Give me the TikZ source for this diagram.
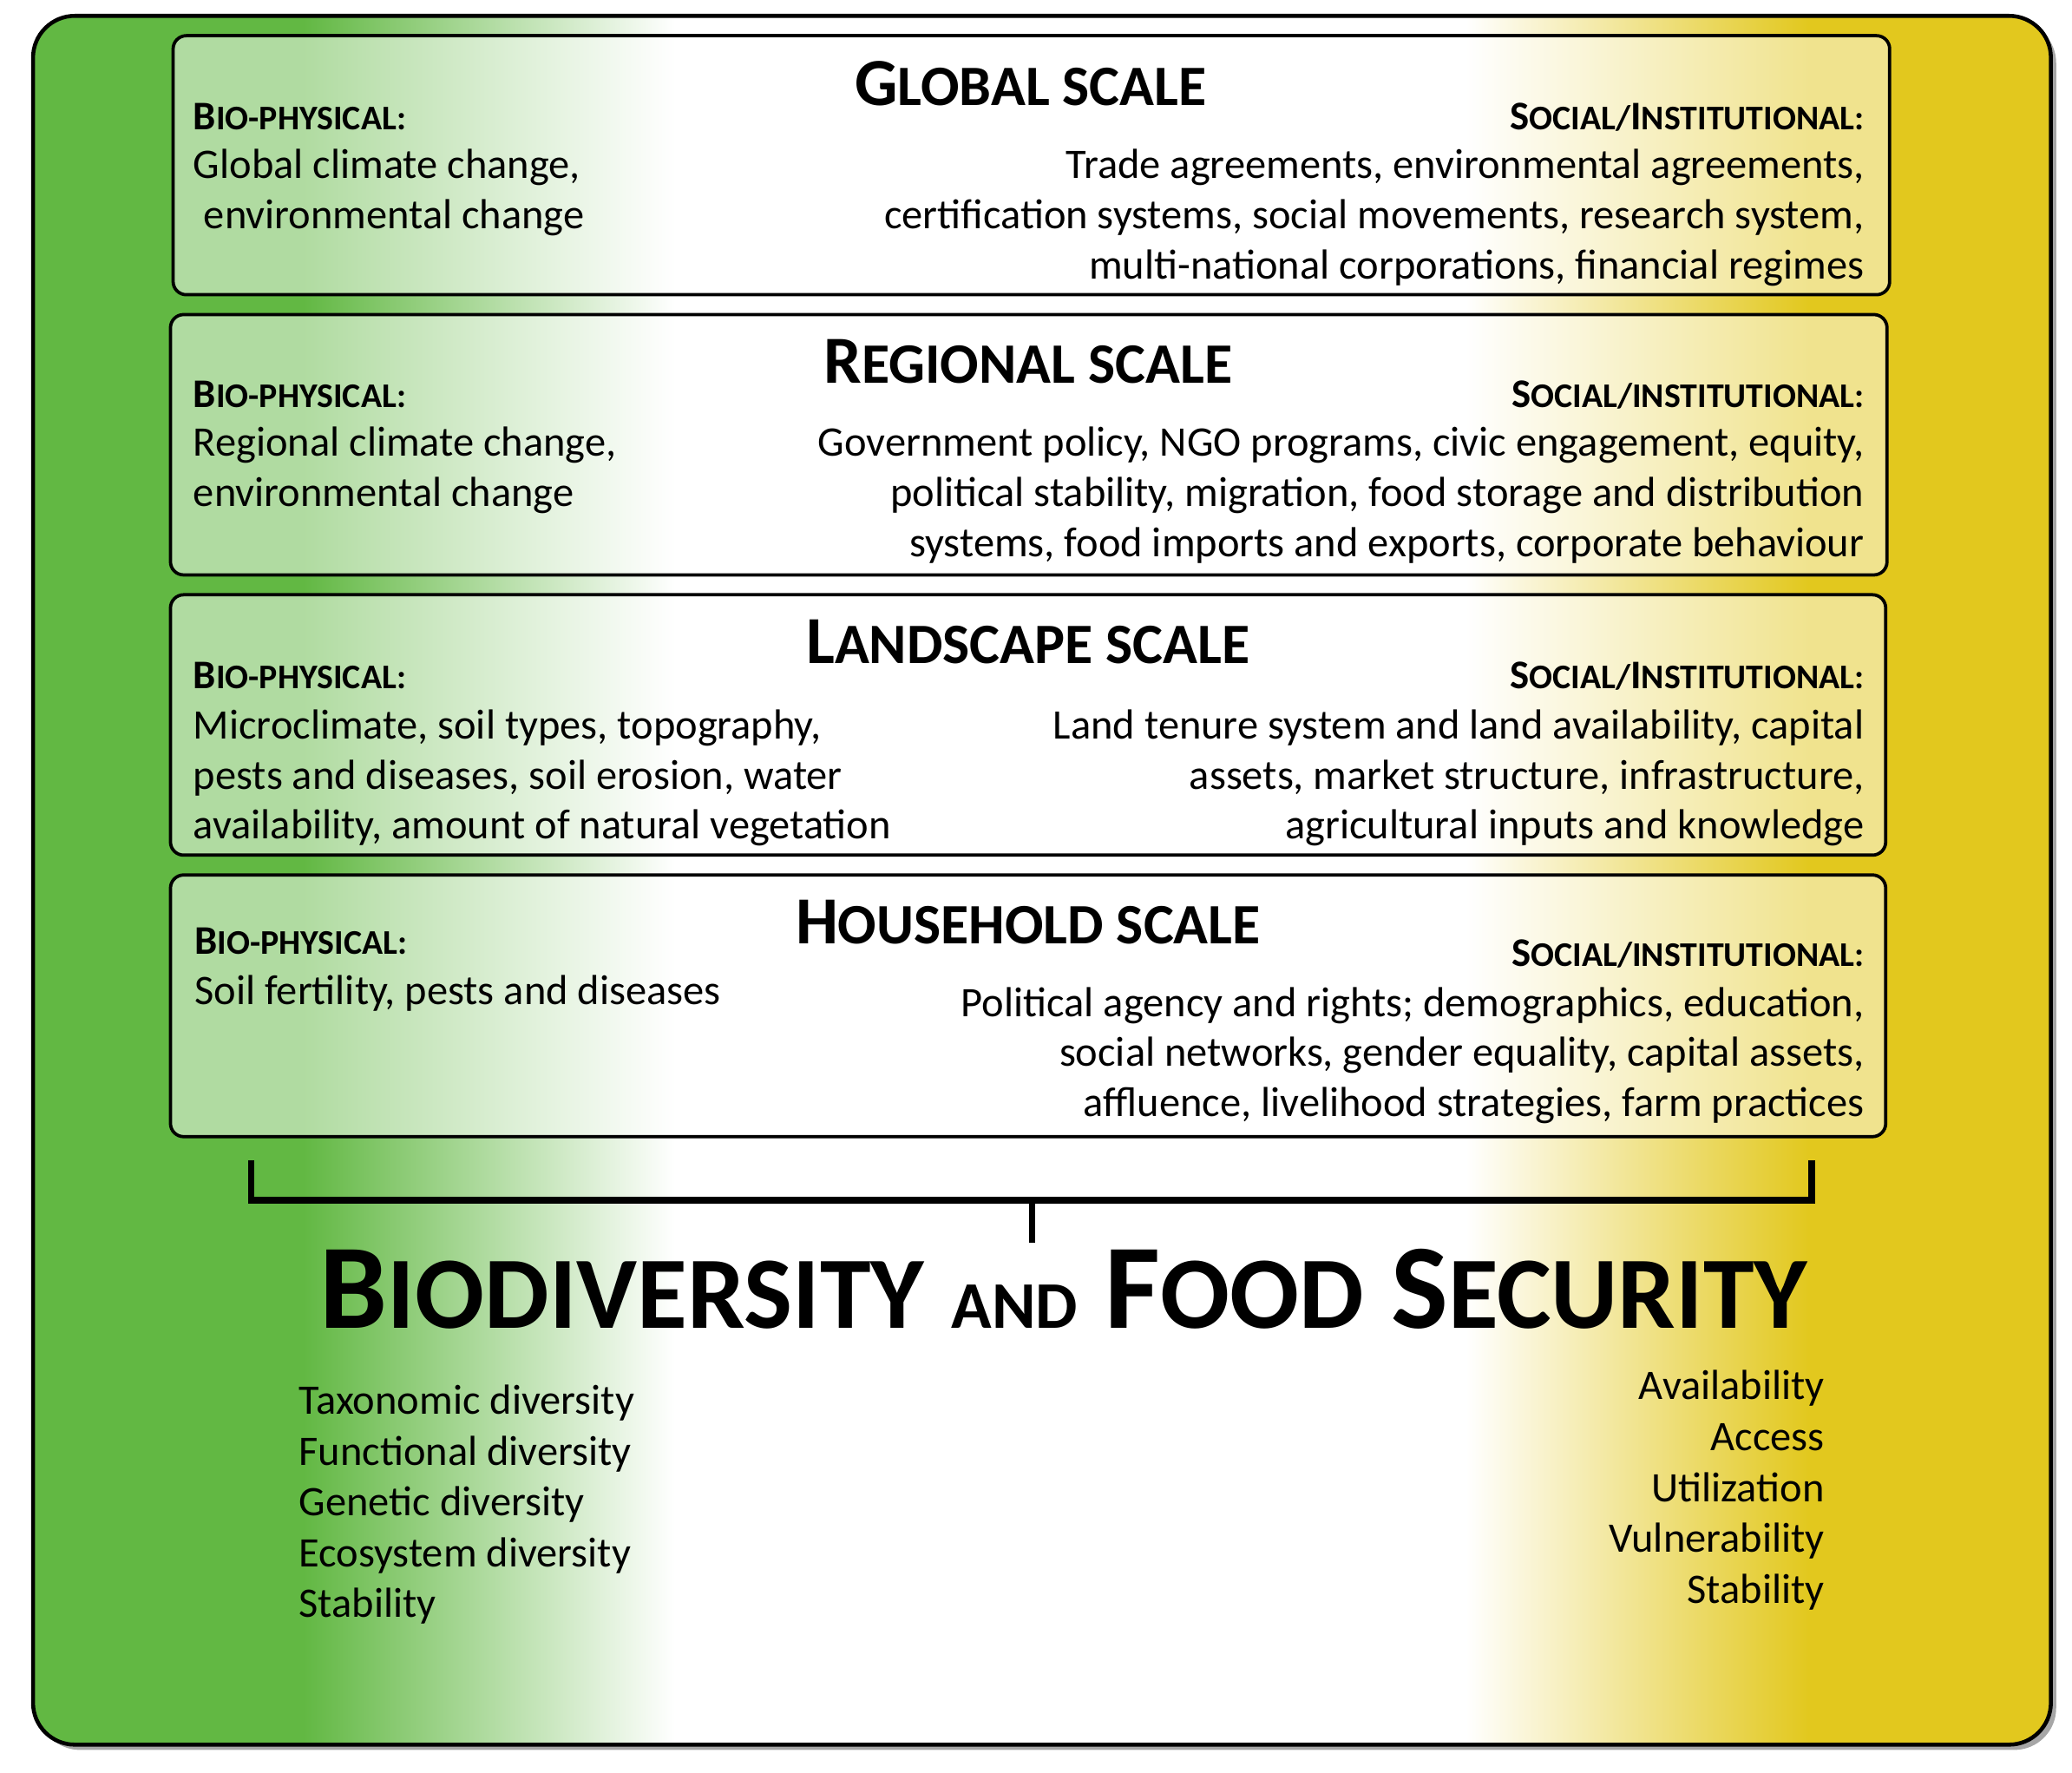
\documentclass[tikz,border=0pt]{standalone}
\usepackage{fontspec}
\setmainfont{Carlito}
\definecolor{fsgreen}{HTML}{62B843}
\definecolor{fsyellow}{HTML}{E2C81E}
\pgfdeclarehorizontalshading{bgshade}{100bp}{color(0bp)=(fsgreen); color(31.7bp)=(fsgreen); color(40.9bp)=(white); color(60.5bp)=(white); color(69bp)=(fsyellow); color(100bp)=(fsyellow)}
\newcommand\bodyfont{\fontsize{18.1}{21.6}\selectfont}
\newcommand\listfont{\fontsize{18.1}{21.9}\selectfont}
\newcommand\hdsc[1]{{\fontsize{14.9}{21.6}\selectfont #1}}
\newcommand\ttsc[1]{{\fontsize{24.6}{29}\selectfont #1}}
\newcommand\mainsc[1]{{\fontsize{44.2}{52}\selectfont #1}}
\newcommand\andsc[1]{{\fontsize{28.7}{52}\selectfont #1}}
\newcommand\bioHead{\textbf{\fontsize{17.5}{21.6}\selectfont B\hdsc{IO-PHYSICAL:}}}
\newcommand\socHead{\textbf{\fontsize{17.5}{21.6}\selectfont S\hdsc{OCIAL/}I\hdsc{NSTITUTIONAL:}}}
\newcommand\socHeadLow{\textbf{\fontsize{17.5}{21.6}\selectfont S\hdsc{OCIAL/INSTITUTIONAL:}}}
\newcommand\scaletitle[2]{\textbf{\fontsize{29}{29}\selectfont #1\ttsc{#2}}}
\begin{document}
\begin{tikzpicture}[x=0.02cm,y=-0.02cm,
  scalebox/.style={draw=black, line width=1.4pt, rounded corners=5.7pt, fill=white, fill opacity=0.5},
  txt/.style={inner sep=0pt, font=\bodyfont},
  lefttxt/.style={txt, anchor=base west},
  righttxt/.style={txt, anchor=base east},
  listtxt/.style={inner sep=0pt, font=\listfont},
  titletxt/.style={inner sep=0pt, anchor=base},
  bracket/.style={line width=2.8pt, line cap=butt, line join=miter}]
\useasboundingbox (0,0) rectangle (1568,1341);
% outer panel
\fill[black!35, rounded corners=18pt] (29,16) rectangle (1556,1324);
\shade[shading=bgshade, rounded corners=18pt] (25,12) rectangle (1552,1320);
\draw[line width=1.7pt, rounded corners=18pt] (25,12) rectangle (1552,1320);
% scale boxes
\draw[scalebox] (131,27) rectangle (1430,223);
\draw[scalebox] (129,238) rectangle (1428,435);
\draw[scalebox] (129,450) rectangle (1427,647);
\draw[scalebox] (129,662) rectangle (1427,860);
% Global
\node[titletxt] (gT) at (780,80) {\scaletitle{G}{LOBAL SCALE}};
\node[lefttxt] (gB) at (146,98) {\bioHead};
\node[lefttxt] (gBt) at (146,135) {\begin{tabular}[t]{@{}l@{}}Global climate change,\\ \hspace{0.25em}environmental change\end{tabular}};
\node[righttxt] (gS) at (1411,98) {\socHead};
\node[righttxt] (gSt) at (1411,135) {\begin{tabular}[t]{@{}r@{}}Trade agreements, environmental agreements,\\ certification systems, social movements, research system,\\ multi-national corporations, financial regimes\end{tabular}};
% Regional
\node[titletxt] (rT) at (778,290) {\scaletitle{R}{EGIONAL SCALE}};
\node[lefttxt] (rB) at (146,308) {\bioHead};
\node[lefttxt] (rBt) at (146,345) {\begin{tabular}[t]{@{}l@{}}Regional climate change,\\ environmental change\end{tabular}};
\node[righttxt] (rS) at (1411,308) {\socHeadLow};
\node[righttxt] (rSt) at (1411,345) {\begin{tabular}[t]{@{}r@{}}Government policy, NGO programs, civic engagement, equity,\\ political stability, migration, food storage and distribution\\ systems, food imports and exports, corporate behaviour\end{tabular}};
% Landscape
\node[titletxt] (lT) at (778,502) {\scaletitle{L}{ANDSCAPE SCALE}};
\node[lefttxt] (lB) at (146,521) {\bioHead};
\node[lefttxt] (lBt) at (146,559) {\begin{tabular}[t]{@{}l@{}}Microclimate, soil types, topography,\\ pests and diseases, soil erosion, water\\ availability, amount of natural vegetation\end{tabular}};
\node[righttxt] (lS) at (1411,521) {\socHead};
\node[righttxt] (lSt) at (1411,559) {\begin{tabular}[t]{@{}r@{}}Land tenure system and land availability, capital\\ assets, market structure, infrastructure,\\ agricultural inputs and knowledge\end{tabular}};
% Household
\node[titletxt] (hT) at (778,714) {\scaletitle{H}{OUSEHOLD SCALE}};
\node[lefttxt] (hB) at (147,722) {\bioHead};
\node[lefttxt] (hBt) at (147,760) {Soil fertility, pests and diseases};
\node[righttxt] (hS) at (1411,731) {\socHeadLow};
\node[righttxt] (hSt) at (1411,769) {\begin{tabular}[t]{@{}r@{}}Political agency and rights; demographics, education,\\ social networks, gender equality, capital assets,\\ affluence, livelihood strategies, farm practices\end{tabular}};
% bracket
\coordinate (bl1) at (190,878);
\coordinate (bl2) at (190,908);
\coordinate (br1) at (1371,878);
\coordinate (br2) at (1371,908);
\coordinate (bm1) at (781,908);
\coordinate (bm2) at (781,940);
\draw[bracket] (bl1) -- (bl2) -- (br2) -- (br1);
\draw[bracket] (bm1) -- (bm2);
% main title
\node[titletxt] (main) at (805,1005) {\bfseries\fontsize{52}{52}\selectfont B\mainsc{IODIVERSITY} \andsc{AND} F\mainsc{OOD} S\mainsc{ECURITY}};
% lists
\node[listtxt, anchor=base west] (bio) at (226,1070) {\begin{tabular}[t]{@{}l@{}}Taxonomic diversity\\ Functional diversity\\ Genetic diversity\\ Ecosystem diversity\\ Stability\end{tabular}};
\node[listtxt, anchor=base east] (food) at (1381,1059) {\begin{tabular}[t]{@{}r@{}}Availability\\ Access\\ Utilization\\ Vulnerability\\ Stability\end{tabular}};
\end{tikzpicture}
\end{document}
